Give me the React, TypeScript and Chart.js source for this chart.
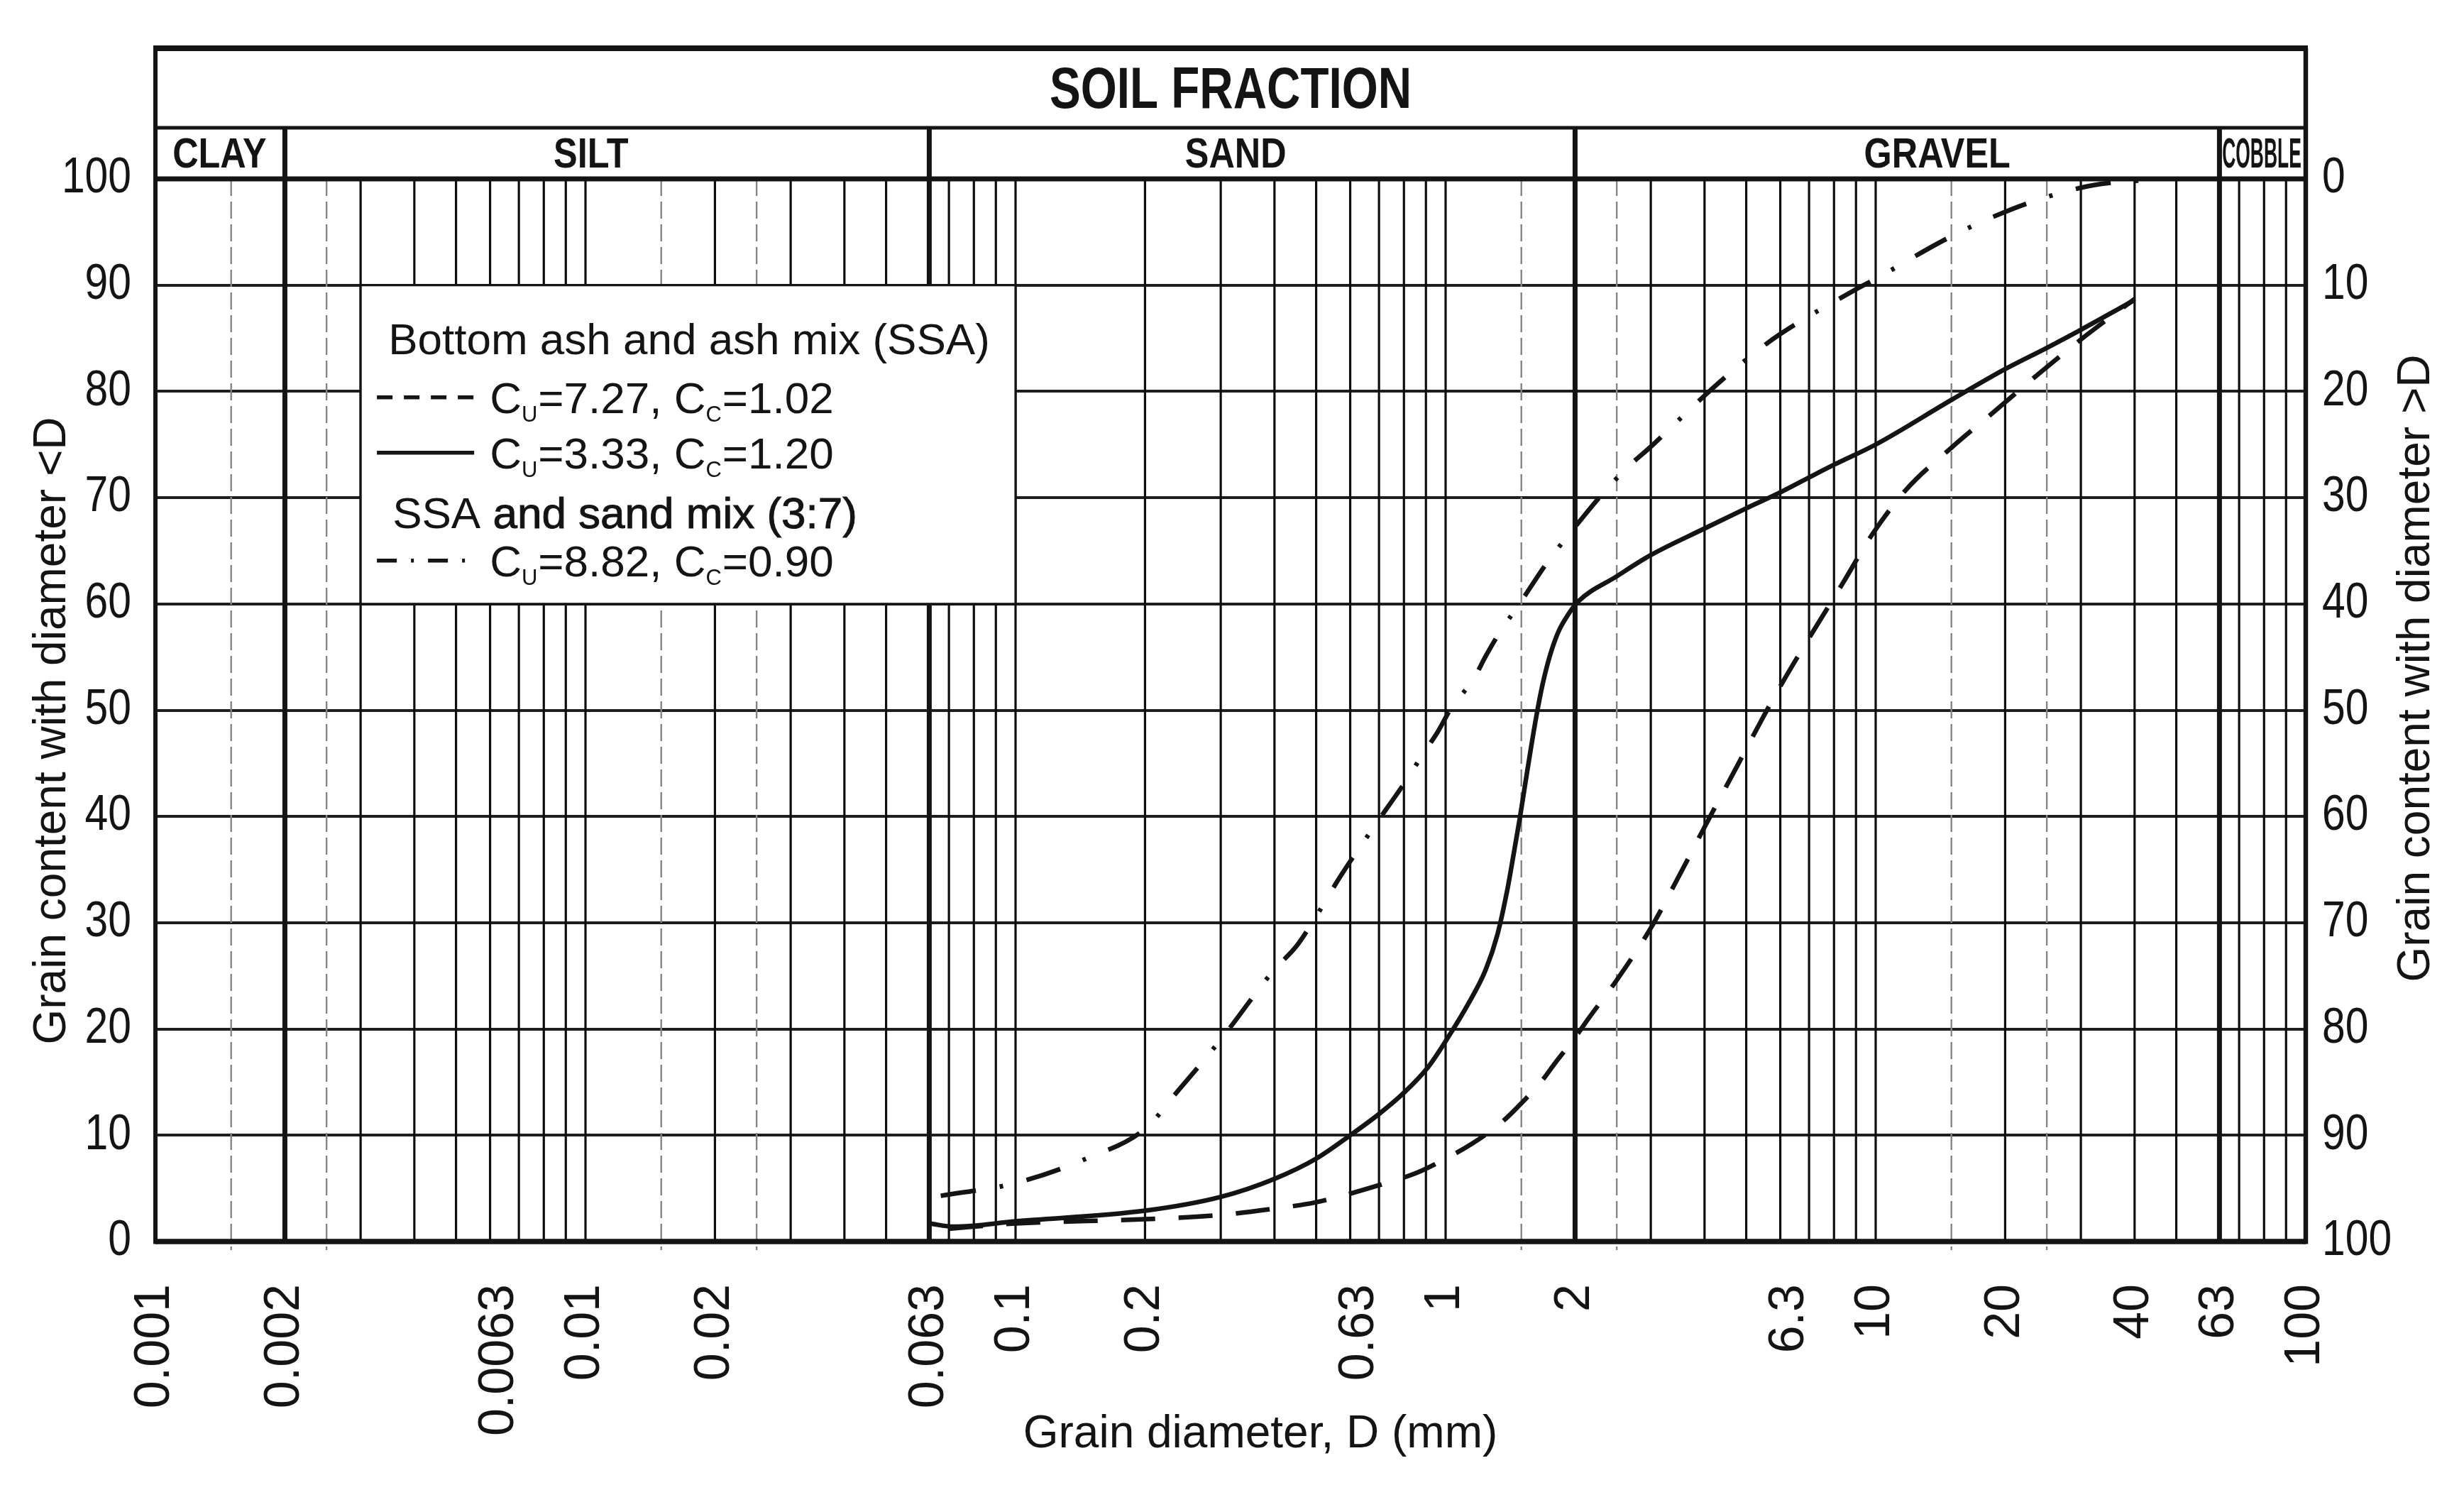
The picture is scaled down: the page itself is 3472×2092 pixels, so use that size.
import React, { useEffect, useRef } from "react";
import { Chart, registerables } from "chart.js";

Chart.register(...registerables);

// ---------- data ----------
const yTickValues = [0, 10, 20, 30, 40, 50, 60, 70, 80, 90, 100];
const xTickValues = [0.001, 0.002, 0.0063, 0.01, 0.02, 0.063, 0.1, 0.2, 0.63, 1, 2, 6.3, 10, 20, 40, 63, 100];
const xTickLabels = ["0.001", "0.002", "0.0063", "0.01", "0.02", "0.063", "0.1", "0.2", "0.63", "1", "2", "6.3", "10", "20", "40", "63", "100"];

const gridThin = [
  0.003, 0.004, 0.005, 0.006, 0.007, 0.008, 0.009, 0.01, 0.02, 0.03, 0.04, 0.05,
  0.07, 0.08, 0.09, 0.1, 0.2, 0.3, 0.4, 0.5, 0.6, 0.7, 0.8, 0.9, 1,
  3, 4, 5, 6, 7, 8, 9, 10, 20, 30, 40, 50, 70, 80, 90,
];
const gridThick = [0.002, 0.063, 2, 63];
const gridDashed = [0.0015, 0.0025, 0.015, 0.025, 1.5, 2.5, 15, 25];

const fractionNames = ["CLAY", "SILT", "SAND", "GRAVEL", "COBBLE"];
const fractionBounds = [0.001, 0.002, 0.063, 2, 63, 100];
const fractionLabelAt = [0.00141, 0.0103, 0.325, 13.9, 79];

// Bottom ash and ash mix (SSA), Cu=7.27 (dashed)
const ssaDashedD = [0.07, 0.1, 0.2, 0.3, 0.4, 0.5, 0.7, 0.86, 1.0, 1.13, 1.33, 1.45, 1.68, 1.79, 2.0, 2.15, 2.5, 3.0, 3.5, 4.0, 4.8, 5.5, 6.05, 7.05, 8.4, 9.8, 11.8, 15, 19, 24, 30.7, 40];
const ssaDashedP = [1.2, 1.7, 2.1, 2.5, 3.1, 3.7, 5.3, 6.5, 7.8, 9.0, 11.0, 12.4, 15.2, 16.7, 19.2, 21.0, 24.6, 29.5, 34.5, 39, 45, 49.5, 52.5, 57, 62, 66.5, 70.8, 74.7, 78.2, 81.7, 85.2, 88.7];

// Bottom ash and ash mix (SSA), Cu=3.33 (solid)
const ssaSolidD = [0.063, 0.072, 0.1, 0.2, 0.3, 0.4, 0.5, 0.6, 0.7, 0.8, 0.91, 1.02, 1.13, 1.24, 1.32, 1.39, 1.44, 1.49, 1.55, 1.62, 1.68, 1.75, 1.83, 1.92, 2.03, 2.5, 3, 4, 5, 6, 7, 8, 10, 15, 20, 25, 30, 40];
const ssaSolidP = [1.7, 1.4, 1.9, 2.9, 4.2, 5.9, 7.8, 10, 12, 14, 16.4, 19.4, 22.4, 25.6, 28.9, 33.0, 36.5, 40.0, 44.4, 49.1, 52.4, 55.2, 57.4, 58.9, 60.2, 62.6, 64.6, 67.1, 69, 70.5, 71.9, 73.1, 75, 79.2, 82.1, 84.1, 85.8, 88.6];

// SSA and sand mix (3:7), Cu=8.82 (dash-dot)
const mixD = [0.067, 0.1, 0.146, 0.2, 0.24, 0.3, 0.4, 0.45, 0.5, 0.57, 0.686, 0.81, 0.89, 0.96, 1.03, 1.16, 1.24, 1.33, 1.49, 1.73, 2.09, 2.31, 2.64, 3, 4, 5, 6, 9, 10, 15, 20, 25, 32, 46];
const mixP = [4.3, 5.5, 7.8, 10.6, 14.3, 19, 25.6, 27.8, 30.6, 34.4, 39.2, 43.4, 46, 48, 50.2, 52.9, 55.1, 57.2, 60.1, 64, 68.2, 70.3, 72.8, 74.8, 79.6, 83.0, 85.4, 89.6, 90.6, 94.6, 96.9, 98.3, 99.4, 100];

const seriesLabels = ["Cu=7.27, Cc=1.02", "Cu=3.33, Cc=1.20", "Cu=8.82, Cc=0.90"];

// ---------- styling ----------
const INK = "#141414";
const REG = "'Liberation Sans', Arial, sans-serif";
const DASH = [48, 33];
const DASHDOT = [50, 34, 5, 34];

function txt(
  ctx: CanvasRenderingContext2D,
  s: string,
  x: number,
  y: number,
  font: string,
  align: CanvasTextAlign,
  sx = 1,
  rot = 0,
  baseline: CanvasTextBaseline = "middle",
  stroke = 0
) {
  ctx.save();
  ctx.translate(x, y);
  ctx.rotate(rot);
  ctx.scale(sx, 1);
  ctx.font = font;
  ctx.textAlign = align;
  ctx.textBaseline = baseline;
  ctx.fillStyle = INK;
  ctx.fillText(s, 0, 0);
  if (stroke > 0) {
    ctx.lineWidth = stroke;
    ctx.strokeStyle = INK;
    ctx.strokeText(s, 0, 0);
  }
  ctx.restore();
}

function line(ctx: CanvasRenderingContext2D, x0: number, y0: number, x1: number, y1: number, w: number, color = INK, dash: number[] = []) {
  ctx.save();
  ctx.beginPath();
  ctx.setLineDash(dash);
  ctx.lineWidth = w;
  ctx.strokeStyle = color;
  ctx.moveTo(x0, y0);
  ctx.lineTo(x1, y1);
  ctx.stroke();
  ctx.restore();
}

// draws "C<sub>U</sub>=7.27, C<sub>C</sub>=1.02"
function coefText(ctx: CanvasRenderingContext2D, s: string, x: number, baseline: number, size: number) {
  const parts = s.match(/^C(\w)=([\d.]+), C(\w)=([\d.]+)$/);
  if (!parts) return;
  const main = `${size}px ${REG}`;
  const sub = `${Math.round(size * 0.5)}px ${REG}`;
  const seq: [string, boolean][] = [
    ["C", false], [parts[1].toUpperCase(), true], ["=" + parts[2] + ", C", false], [parts[3].toUpperCase(), true], ["=" + parts[4], false],
  ];
  let cx = x;
  ctx.save();
  ctx.fillStyle = INK;
  ctx.textAlign = "left";
  ctx.textBaseline = "alphabetic";
  for (const [t, isSub] of seq) {
    ctx.font = isSub ? sub : main;
    ctx.fillText(t, cx, isSub ? baseline + size * 0.2 : baseline);
    cx += ctx.measureText(t).width + (isSub ? 1 : 0);
  }
  ctx.restore();
}

const soilPlugin = {
  id: "soilFrame",
  beforeDatasetsDraw(chart: any) {
    const ctx: CanvasRenderingContext2D = chart.ctx;
    const { top, bottom } = chart.chartArea;
    const xs = chart.scales.x;
    const ys = chart.scales.y;
    for (const v of gridThin) {
      const x = xs.getPixelForValue(v);
      line(ctx, x, top, x, bottom, 3.2, "#0e0e0e");
    }
    for (const v of gridDashed) {
      const x = xs.getPixelForValue(v);
      line(ctx, x, top, x, bottom + 12, 2.4, "#858585", [24, 8]);
    }
    for (const v of gridThick) {
      const x = xs.getPixelForValue(v);
      line(ctx, x, top, x, bottom, 7);
    }

    // legend box
    const bx0 = xs.getPixelForValue(0.003);
    const bx1 = xs.getPixelForValue(0.1);
    const by0 = ys.getPixelForValue(90);
    const by1 = ys.getPixelForValue(60);
    ctx.save();
    ctx.fillStyle = "#fff";
    ctx.fillRect(bx0, by0, bx1 - bx0, by1 - by0);
    ctx.lineWidth = 3.2;
    ctx.strokeStyle = INK;
    ctx.strokeRect(bx0, by0, bx1 - bx0, by1 - by0);
    ctx.restore();

    const size = 62;
    const cap = size * 0.36;
    const rows = [75, 158, 236, 320, 388].map((o) => by0 + o);
    txt(ctx, "Bottom ash and ash mix (SSA)", bx0 + 39, rows[0] + cap, `${size}px ${REG}`, "left", 1, 0, "alphabetic");
    const sx0 = bx0 + 23;
    const sx1 = bx0 + 160;
    const tx = bx0 + 182;
    line(ctx, sx0, rows[1], sx1, rows[1], 5.5, INK, [22, 16]);
    coefText(ctx, seriesLabels[0], tx, rows[1] + cap, size);
    line(ctx, sx0, rows[2], sx1, rows[2], 5.5);
    coefText(ctx, seriesLabels[1], tx, rows[2] + cap, size);
    ctx.save();
    ctx.font = `${size}px ${REG}`;
    const wSSA = ctx.measureText("SSA ").width;
    ctx.restore();
    txt(ctx, "SSA", bx0 + 45, rows[3] + cap, `${size}px ${REG}`, "left", 1, 0, "alphabetic");
    txt(ctx, "and sand mix (3:7)", bx0 + 45 + wSSA, rows[3] + cap, `${size}px ${REG}`, "left", 1, 0, "alphabetic", 1.0);
    line(ctx, sx0, rows[4], sx1, rows[4], 5.5, INK, [28, 20, 4, 20]);
    coefText(ctx, seriesLabels[2], tx, rows[4] + cap, size);
  },
  afterDatasetsDraw(chart: any) {
    const ctx: CanvasRenderingContext2D = chart.ctx;
    const { left, right, top, bottom } = chart.chartArea;
    const xs = chart.scales.x;
    const ys = chart.scales.y;
    const ys2 = chart.scales.y2;
    const hTop = top - 184;
    const hMid = top - 72;

    // plot frame
    line(ctx, left, top, right, top, 7);
    line(ctx, left, bottom, right, bottom, 7.5);
    line(ctx, left, hTop, left, bottom + 3.5, 6);
    line(ctx, right, hTop, right, bottom + 3.5, 6.5);
    // header
    line(ctx, left - 3, hTop, right + 3, hTop, 8);
    line(ctx, left, hMid, right, hMid, 5);
    for (const b of fractionBounds.slice(1, -1)) {
      const x = xs.getPixelForValue(b);
      line(ctx, x, hMid, x, top, 7);
    }
    txt(ctx, "SOIL FRACTION", (left + right) / 2, (hTop + hMid) / 2 + 5, `bold 82px ${REG}`, "center", 0.8);
    ctx.save();
    ctx.font = `bold 60px ${REG}`;
    fractionNames.forEach((n, i) => {
      const cx = xs.getPixelForValue(fractionLabelAt[i]);
      const cell = xs.getPixelForValue(fractionBounds[i + 1]) - xs.getPixelForValue(fractionBounds[i]);
      const w = ctx.measureText(n).width;
      const sx = Math.min(0.84, (cell - 10) / w);
      txt(ctx, n, cx, (hMid + top) / 2 + 3, `bold 60px ${REG}`, "center", sx);
    });
    ctx.restore();

    // y tick labels (condensed), positioned by the scales' own ticks
    for (const t of ys.ticks) {
      txt(ctx, String(t.value), left - 34, ys.getPixelForValue(t.value), `70px ${REG}`, "right", 0.84);
    }
    for (const t of ys2.ticks) {
      txt(ctx, String(t.value), right + 23, ys2.getPixelForValue(t.value), `70px ${REG}`, "left", 0.84);
    }

    // axis titles
    const midY = (top + bottom) / 2;
    txt(ctx, "Grain content with diameter <D", 74, midY + 29, `64px ${REG}`, "center", 1, -Math.PI / 2);
    txt(ctx, "Grain content with diameter >D", right + 156, midY - 59, `64px ${REG}`, "center", 1, -Math.PI / 2);
    txt(ctx, "Grain diameter, D (mm)", (left + right) / 2 + 42, bottom + 272, `64px ${REG}`, "center");
  },
};

function pts(d: number[], p: number[]) {
  return d.map((v, i) => ({ x: v, y: p[i] }));
}

export default function App() {
  const ref = useRef<HTMLCanvasElement | null>(null);
  useEffect(() => {
    if (!ref.current) return;
    const common = {
      borderColor: INK,
      borderWidth: 6.5,
      pointRadius: 0,
      cubicInterpolationMode: "monotone",
      fill: false,
      borderCapStyle: "butt",
    };
    const chart = new Chart(ref.current, {
      type: "line",
      data: {
        datasets: [
          { ...common, label: seriesLabels[0], data: pts(ssaDashedD, ssaDashedP), borderDash: DASH },
          { ...common, label: seriesLabels[1], data: pts(ssaSolidD, ssaSolidP) },
          { ...common, label: seriesLabels[2], data: pts(mixD, mixP), borderDash: DASHDOT },
        ],
      },
      options: {
        animation: false,
        responsive: false,
        layout: { padding: { top: 252, left: 0, right: 0, bottom: 0 } },
        plugins: { legend: { display: false }, tooltip: { enabled: false } },
        scales: {
          x: {
            type: "logarithmic",
            min: 0.001,
            max: 100,
            grid: { display: false },
            border: { display: false },
            afterBuildTicks: (s: any) => {
              s.ticks = xTickValues.map((v) => ({ value: v }));
            },
            afterFit: (s: any) => {
              s.height = 343;
            },
            ticks: {
              autoSkip: false,
              minRotation: 90,
              maxRotation: 90,
              padding: 52,
              color: INK,
              font: { family: REG, size: 70 },
              callback: (_v: any, i: number) => xTickLabels[i],
            },
          },
          y: {
            type: "linear",
            position: "left",
            min: 0,
            max: 100,
            afterBuildTicks: (s: any) => {
              s.ticks = yTickValues.map((v) => ({ value: v }));
            },
            afterFit: (s: any) => {
              s.width = 219;
            },
            grid: {
              drawTicks: false,
              color: "#1e1e1e",
              lineWidth: 4,
            },
            border: { display: false },
            ticks: { display: false },
          },
          y2: {
            type: "linear",
            position: "right",
            reverse: true,
            min: 0,
            max: 100,
            afterBuildTicks: (s: any) => {
              s.ticks = yTickValues.map((v) => ({ value: v }));
            },
            afterFit: (s: any) => {
              s.width = 223;
            },
            grid: { display: false, drawTicks: false },
            border: { display: false },
            ticks: { display: false },
          },
        },
      },
      plugins: [soilPlugin],
    } as any);
    return () => chart.destroy();
  }, []);

  return (
    <div style={{ position: "fixed", left: 0, top: 0, width: 3472, height: 2092, background: "#fff" }}>
      <canvas ref={ref} width={3472} height={2092} style={{ display: "block", width: 3472, height: 2092 }} />
    </div>
  );
}
